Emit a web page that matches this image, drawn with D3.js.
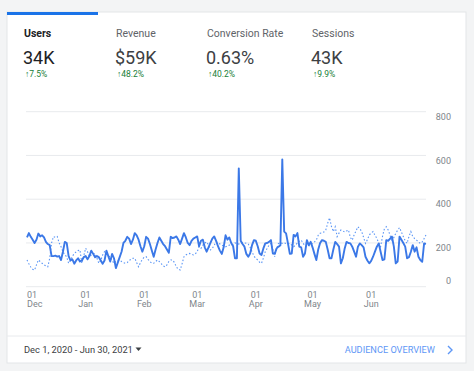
<html>
<head>
<script src="https://cdn.jsdelivr.net/npm/d3@7"></script>
<style>
  body { margin: 0; background: #f3f4f5; font-family: Roboto, "Noto Sans", sans-serif; }
  svg text { font-family: Roboto, "Noto Sans", sans-serif; }
</style>
</head>
<body>
<svg id="chart"></svg>
<script>
// ---- data ----
var kpiNames   = ["Users", "Revenue", "Conversion Rate", "Sessions"];
var kpiValues  = ["34K", "$59K", "0.63%", "43K"];
var kpiChanges = ["7.5%", "48.2%", "40.2%", "9.9%"];

var yTicks = [0, 200, 400, 600, 800];
var monthTicks  = ["2020-12-01", "2021-01-01", "2021-02-01", "2021-03-01", "2021-04-01", "2021-05-01", "2021-06-01"];
var monthLabels = ["Dec", "Jan", "Feb", "Mar", "Apr", "May", "Jun"];

// daily users, Dec 1 2020 .. Jun 30 2021
var usersCurrent = [
  225,245,228,215,200,215,243,230,235,225,205,195,190,140,140,142,138,140,122,160,205,200,140,120,125,105,120,130,115,120,135, // Dec
  140,125,140,165,150,135,140,135,120,105,120,165,140,115,150,130,85,110,135,160,200,210,228,220,195,215,245,235,215,185,160,   // Jan
  185,228,220,195,165,137,170,200,225,210,195,185,170,155,228,222,225,230,215,195,220,245,225,200,190,210,220,225,              // Feb
  230,185,210,215,180,160,180,200,220,230,210,185,165,150,180,235,215,225,200,185,130,130,541,210,195,183,150,137,152,190,213,  // Mar
  210,185,152,145,175,198,200,205,213,152,150,175,183,190,582,252,244,198,150,152,237,230,245,183,180,137,152,213,190,205,      // Apr
  180,150,122,170,200,213,210,205,170,130,130,170,205,195,183,107,130,175,205,200,198,183,160,137,183,198,190,180,137,120,107,  // May
  118,137,160,183,198,160,122,125,213,210,220,229,183,107,115,229,215,200,183,130,135,160,190,160,180,137,122,114,198,196       // Jun
];
var usersPrevious = [
  122,105,90,80,76,100,122,115,107,100,95,91,130,200,229,225,229,200,183,160,145,137,107,120,140,150,160,165,168,107,140,
  176,160,137,145,150,152,130,107,120,145,160,150,140,137,120,107,115,120,122,115,110,107,110,120,125,130,130,110,91,110,125,
  135,137,125,115,107,107,115,122,115,105,95,91,100,115,122,122,110,90,80,76,105,137,145,150,152,148,145,150,
  160,183,175,190,200,205,190,168,175,190,205,200,195,190,185,183,185,190,190,192,200,198,195,198,200,198,200,195,180,160,140,
  130,122,112,107,130,160,175,190,198,170,137,175,198,200,198,200,197,195,198,190,183,190,200,208,213,200,185,183,186,190,
  198,205,213,235,244,246,250,259,290,315,275,252,274,229,245,259,255,250,255,259,225,213,237,255,274,265,252,225,198,215,237,
  245,252,235,221,200,183,230,265,274,259,235,205,225,244,258,270,250,229,210,198,230,252,229,220,213,205,198,205,220,237
];

var startDate = new Date(2020, 11, 1);

// ---- layout ----
var width = 474, height = 371;
var svg = d3.select("#chart").attr("width", width).attr("height", height);

// card
svg.append("rect")
   .attr("x", 7).attr("y", 12).attr("width", 459).attr("height", 351)
   .attr("fill", "#fff")
   .attr("stroke", "#e3e5e8").attr("stroke-width", 1);
svg.append("rect")
   .attr("x", 7).attr("y", 12).attr("width", 91).attr("height", 3)
   .attr("fill", "#1a73e8");

// kpi header
var colX = [24, 116, 207, 312];
var kpi = svg.append("g");
kpiNames.forEach(function(name, i) {
  kpi.append("text").attr("x", colX[i]).attr("y", 36.5)
     .attr("font-size", "10.5px")
     .attr("font-weight", i == 0 ? "bold" : "normal")
     .attr("fill", i == 0 ? "#202124" : "#5f6368")
     .text(name);
  kpi.append("text").attr("x", colX[i] - 1).attr("y", 63.5)
     .attr("font-size", "18px")
     .attr("fill", i == 0 ? "#202124" : "#3c4043")
     .text(kpiValues[i]);
  kpi.append("text").attr("x", colX[i] + 1).attr("y", 76.5)
     .attr("font-size", "8.5px")
     .attr("fill", "#188038")
     .text("\u2191" + kpiChanges[i]);
});

// scales
var x = d3.scaleTime()
          .domain([startDate, d3.timeDay.offset(startDate, usersCurrent.length - 1)])
          .range([27, 426]);
var y = d3.scaleLinear().domain([0, 800]).range([286.7, 111.7]);

// grid lines + y labels
svg.append("g").selectAll("line")
   .data(yTicks).enter().append("line")
   .attr("x1", 26).attr("x2", 426)
   .attr("y1", function(d) { return y(d); })
   .attr("y2", function(d) { return y(d); })
   .attr("stroke", "#e8eaed").attr("stroke-width", 1);

svg.append("g").selectAll("text")
   .data(yTicks).enter().append("text")
   .attr("x", 451)
   .attr("y", function(d) { return d == 0 ? y(d) - 5.5 : y(d) + 5; })
   .attr("dy", "0.35em")
   .attr("text-anchor", "end")
   .attr("font-size", "9px")
   .attr("fill", "#80868b")
   .text(function(d) { return d; });

// x labels
var parse = d3.timeParse("%Y-%m-%d");
var xl = svg.append("g").selectAll("g")
   .data(monthTicks).enter().append("g")
   .attr("transform", function(d) { return "translate(" + x(parse(d)) + ",0)"; });
xl.append("text").attr("y", 298)
  .attr("text-anchor", function(d, i) { return i == 0 ? "start" : "middle"; })
  .attr("font-size", "9px").attr("fill", "#80868b")
  .text("01");
xl.append("text").attr("y", 307)
  .attr("text-anchor", function(d, i) { return i == 0 ? "start" : "middle"; })
  .attr("font-size", "9px").attr("fill", "#80868b")
  .text(function(d, i) { return monthLabels[i]; });

// lines
var line = d3.line()
   .x(function(d, i) { return x(d3.timeDay.offset(startDate, i)); })
   .y(function(d) { return y(d); });

svg.append("path").datum(usersPrevious)
   .attr("d", line)
   .attr("fill", "none")
   .attr("stroke", "#5a95f5").attr("stroke-width", 1.1)
   .attr("stroke-dasharray", "1.5,2");

svg.append("path").datum(usersCurrent)
   .attr("d", line)
   .attr("fill", "none")
   .attr("stroke", "#3b78e7").attr("stroke-width", 1.9)
   .attr("stroke-linejoin", "round");

// footer
svg.append("line")
   .attr("x1", 7).attr("x2", 466).attr("y1", 336).attr("y2", 336)
   .attr("stroke", "#e8eaed");
svg.append("text").attr("x", 24).attr("y", 353)
   .attr("font-size", "9.3px").attr("fill", "#3c4043")
   .text("Dec 1, 2020 - Jun 30, 2021");
svg.append("path")
   .attr("d", "M135.5,347.5 L141.5,347.5 L138.5,351 Z")
   .attr("fill", "#3c4043");
svg.append("text").attr("x", 435).attr("y", 353)
   .attr("text-anchor", "end")
   .attr("font-size", "9.2px").attr("fill", "#5e97f6")
   .text("AUDIENCE OVERVIEW");
svg.append("path")
   .attr("d", "M448,346 L452,350 L448,354")
   .attr("fill", "none").attr("stroke", "#5e97f6").attr("stroke-width", 1.4);
</script>
</body>
</html>
